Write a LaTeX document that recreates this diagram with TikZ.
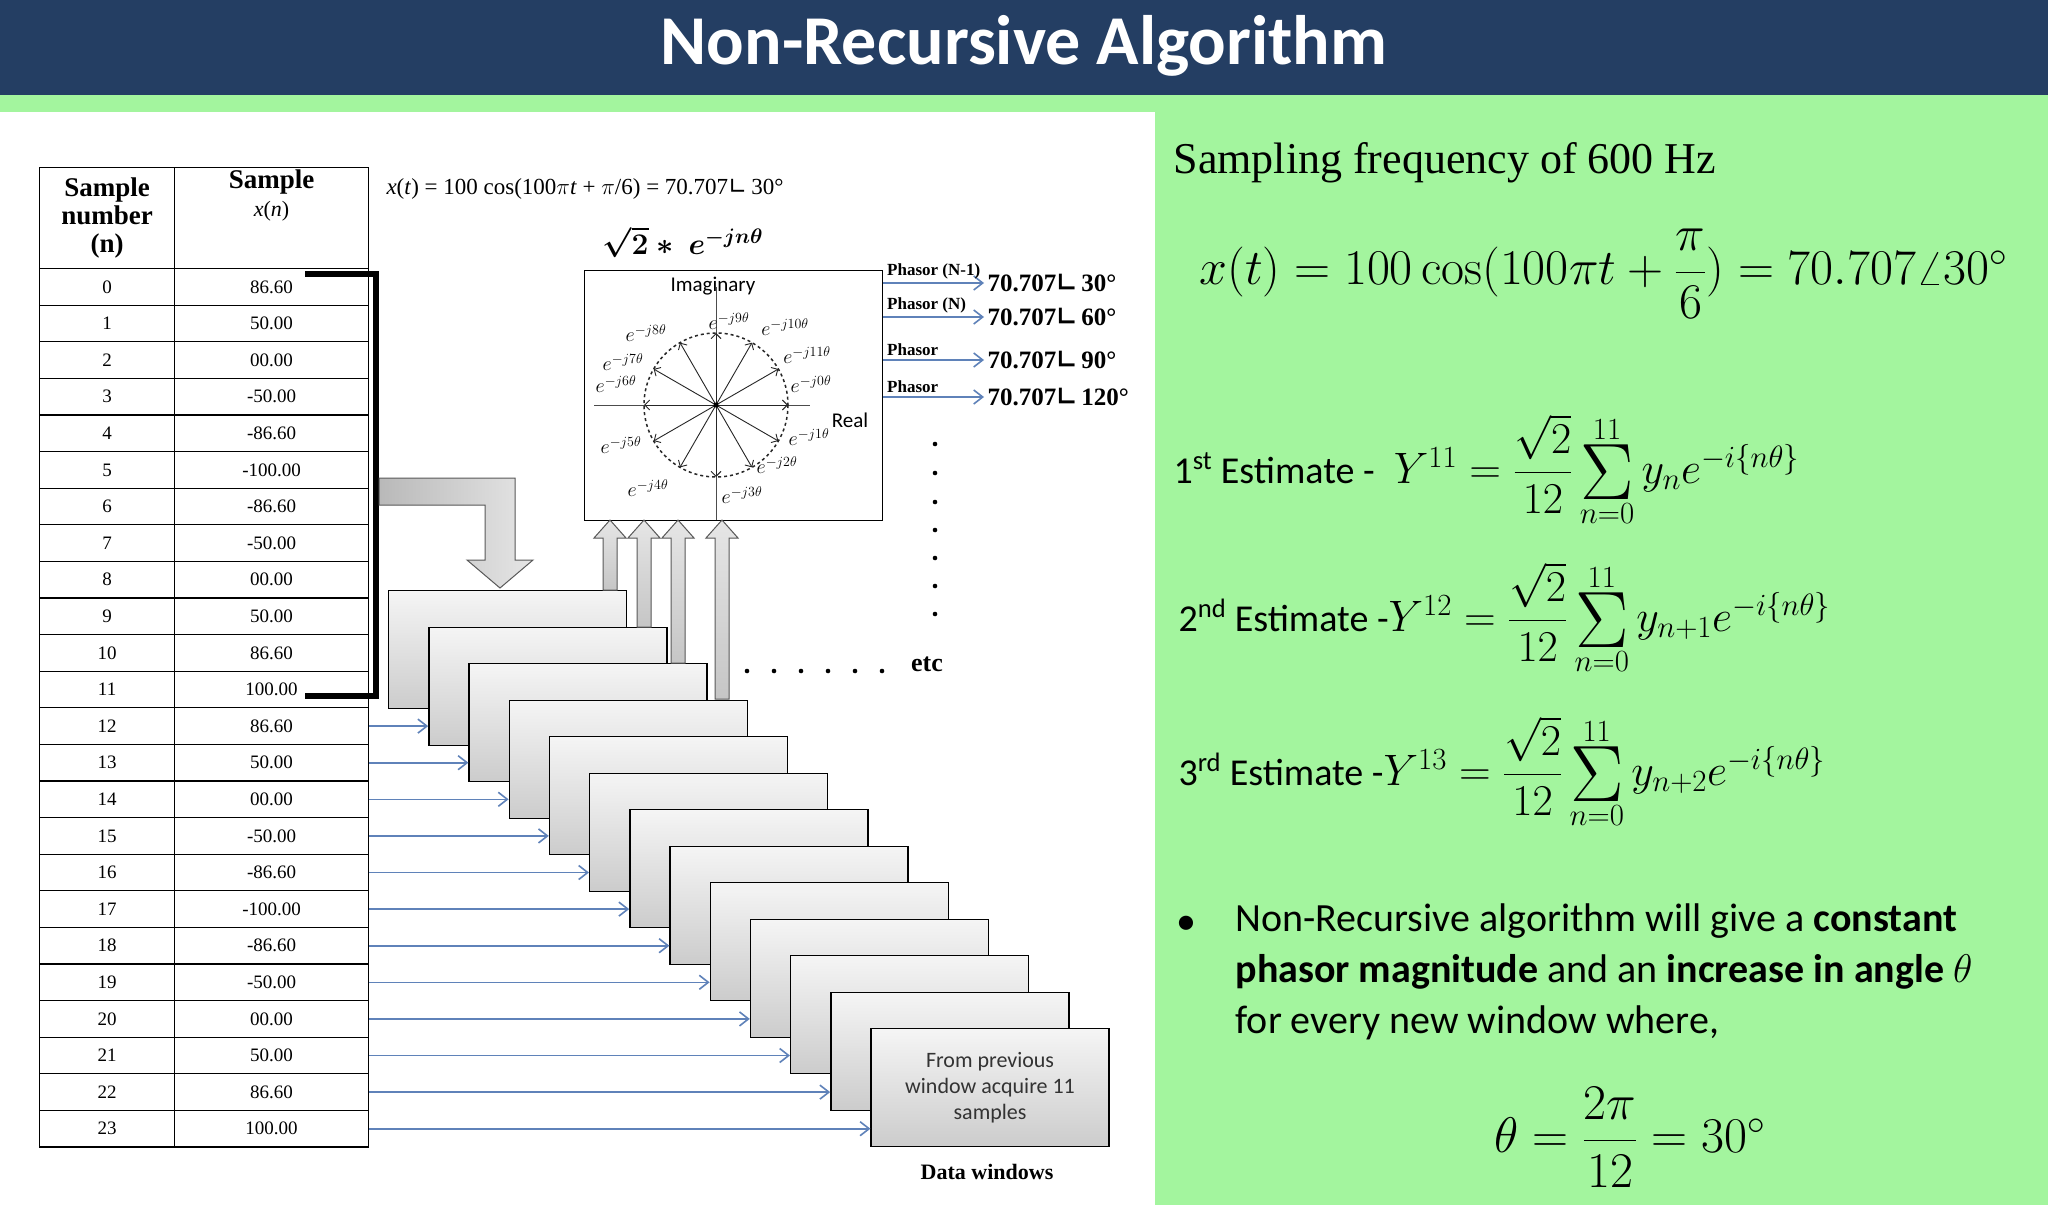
\RequirePackage{fix-cm}
\documentclass[tikz,border=0pt]{standalone}
\usepackage{amsmath}
\usepackage{exscale}
\usepackage[no-math]{fontspec}
\setmainfont{Liberation Serif}
\newfontfamily\calib{Carlito}
\newfontfamily\dvs{DejaVu Sans}
\usetikzlibrary{arrows.meta}
\definecolor{titleblue}{RGB}{36,62,99}
\definecolor{bggreen}{RGB}{163,245,158}
\definecolor{arrblue}{RGB}{95,130,185}
\newcommand{\ang}{{\dvs\char"221F}}
\newcommand{\fs}[1]{\fontsize{#1}{\dimexpr #1pt*6/5\relax}\selectfont}
\newcommand{\bigsum}{\mathop{\vcenter{\hbox{\fontsize{80}{80}\selectfont$\Sigma$}}}\limits}
\begin{document}
\begin{tikzpicture}[x=1pt,y=-1pt,
  cell/.style={draw,line width=1.2pt,minimum height=36.6pt,inner sep=0pt,font=\fs{19}},
  win/.style={draw,line width=1.3pt,top color=gray!8,bottom color=gray!40,minimum width=238pt,minimum height=118pt,anchor=north west,inner sep=0pt},
  barr/.style={arrblue,line width=1.6pt,-{Straight Barb[length=9pt,width=14pt]}},
  garr/.style={draw=gray!70!black,line width=1pt,fill=gray!35},
  plab/.style={font=\fs{20}\itshape,inner sep=0pt}]
\useasboundingbox (0,0) rectangle (2048,1205);
\fill[bggreen] (0,0) rectangle (2048,1205);
\fill[titleblue] (0,0) rectangle (2048,95);
\fill[white] (0,112) rectangle (1155,1205);
\node[white,font=\calib\bfseries\fs{70}] (title) at (1024,46) {Non-Recursive Algorithm};

% table
\node[cell,minimum width=135pt,minimum height=101pt,anchor=north west,align=center,font=\bfseries\fontsize{27}{28}\selectfont] (h1) at (39,167) {Sample\\number\\(n)};
\node[cell,minimum width=194pt,minimum height=101pt,anchor=north west,align=center,font=\fs{27}] (h2) at (174,167) {\textbf{Sample}\\[-4pt]\fs{22}\textit{x}(\textit{n})\\[18pt]};
\foreach \v [count=\i from 0] in {86.60,50.00,00.00,-50.00,-86.60,-100.00,-86.60,-50.00,00.00,50.00,86.60,100.00,86.60,50.00,00.00,-50.00,-86.60,-100.00,-86.60,-50.00,00.00,50.00,86.60,100.00}{
  \node[cell,minimum width=135pt,anchor=north west] (n\i) at (39,268+\i*36.6) {\i};
  \node[cell,minimum width=194pt,anchor=north west] (v\i) at (174,268+\i*36.6) {\v};
}
% bracket
\draw[line width=6pt] (305,274) -| (376,696) -- (305,696);

% big gray arrow
\path[garr,left color=gray!55,right color=gray!20] (379,478) -- (515,478) -- (515,560) -- (533,560) -- (500,588) -- (467,560) -- (485,560) -- (485,505) -- (379,505) -- cycle;

% windows
\foreach \k in {0,...,12}{
  \node[win] (w\k) at (388+\k*40.2,590+\k*36.5) {};
}
\node[align=center,font=\calib\fs{22},text=black!80] (wt) at (w12.center) {From previous\\window acquire 11\\samples};
\node[font=\bfseries\fs{22}] (dw) at (987,1172) {Data windows};

% blue arrows
\foreach \k [evaluate=\k as \r using int(\k+11)] in {1,...,12}{
  \draw[barr] (v\r.east) -- (v\r.east -| w\k.west);
}

% phasor box
\node[draw,line width=1.3pt,minimum width=298pt,minimum height=250pt,anchor=north west,inner sep=0pt] (pb) at (584,270) {};
\coordinate (c) at (716,405);
\draw[line width=1pt,gray!60!black] (594,405) -- (810,405);
\draw[line width=1pt,gray!60!black] (716,287) -- (716,520);
\draw[line width=1.5pt,dashed,gray!30!black] (c) circle (72);
\foreach \a in {0,30,...,330}{
  \draw[gray!30!black,line width=0.9pt,-{Straight Barb[length=5pt]}] (c) -- ++(\a:72);
}
\fill (c) circle (2.5);
\node[font=\calib\fs{21}] (imag) at (713,286) {Imaginary};
\node[font=\calib\fs{21}] (real) at (850,420) {Real};
\node[plab] (e9) at (729,321) {$e^{-j9\theta}$};
\node[plab] (e10) at (785,327) {$e^{-j10\theta}$};
\node[plab] (e8) at (646,333) {$e^{-j8\theta}$};
\node[plab] (e11) at (807,355) {$e^{-j11\theta}$};
\node[plab] (e7) at (623,362) {$e^{-j7\theta}$};
\node[plab] (e6) at (616,384) {$e^{-j6\theta}$};
\node[plab] (e0) at (811,384) {$e^{-j0\theta}$};
\node[plab] (e5) at (621,445) {$e^{-j5\theta}$};
\node[plab] (e1) at (809,437) {$e^{-j1\theta}$};
\node[plab] (e2) at (777,465) {$e^{-j2\theta}$};
\node[plab] (e4) at (648,488) {$e^{-j4\theta}$};
\node[plab] (e3) at (742,495) {$e^{-j3\theta}$};

\node[font=\fs{30}] (sq) at (683,242) {$\boldsymbol{\sqrt{2}\ast\ e^{-jn\theta}}$};
\node[anchor=west,font=\fs{23}] (xt) at (383,189) {\textit{x}(\textit{t}) = 100 cos(100\textit{$\pi$t} + \textit{$\pi$}/6) = 70.707\ang\,30°};

% up arrows
\foreach \x/\y [count=\k from 0] in {610/590,644/627,678/663,722/699}{
  \path[garr,top color=gray!20,bottom color=gray!45] (\x-7,\y) -- (\x-7,538) -- (\x-16,538) -- (\x,520) -- (\x+16,538) -- (\x+7,538) -- (\x+7,\y) -- cycle;
}

% phasor outputs
\foreach \y/\t/\v [count=\k] in {283/Phasor (N-1)/30,317/Phasor (N)/60,360/Phasor/90,397/Phasor/120}{
  \coordinate (s\k) at (pb.east |- 0,\y);
  \node[anchor=west,font=\bfseries\fs{25}] (pv\k) at (984,\y) {70.707\ang\,\v°};
  \draw[barr] (s\k) -- (pv\k.west);
  \node[anchor=south west,font=\bfseries\fs{17},inner sep=1pt] (pl\k) at (886,\y-3) {\t};
}
\foreach \y in {444,473,502,530,558,586,614} \fill (935,\y) circle (2.3);
\foreach \x in {747,774,801,828,855,882} \fill (\x,671) circle (2.3);
\node[font=\bfseries\fs{26}] (etc) at (927,664) {etc};

% right panel
\node[anchor=west,font=\fs{44}] (sf) at (1170,163) {Sampling frequency of 600 Hz};
\node[anchor=west,font=\fs{50}] (eq) at (1196,274) {$x(t)=100\cos(100\pi t+\dfrac{\pi}{6})=70.707\angle 30^{\circ}$};
\node[anchor=west,font=\calib\fs{38}] (e1st) at (1170,470) {1\textsuperscript{st} Estimate -\; \fs{44}$Y^{11}=\dfrac{\sqrt{2}}{12}\bigsum_{n=0}^{11}y_{n}e^{-i\{n\theta\}}$};
\node[anchor=west,font=\calib\fs{38}] (e2nd) at (1175,618) {2\textsuperscript{nd} Estimate -\fs{44}$Y^{12}=\dfrac{\sqrt{2}}{12}\bigsum_{n=0}^{11}y_{n+1}e^{-i\{n\theta\}}$};
\node[anchor=west,font=\calib\fs{38}] (e3rd) at (1175,772) {3\textsuperscript{rd} Estimate -\fs{44}$Y^{13}=\dfrac{\sqrt{2}}{12}\bigsum_{n=0}^{11}y_{n+2}e^{-i\{n\theta\}}$};
\node[font=\calib\fs{40}] (bul) at (1186,925) {•};
\node[anchor=north west,align=left,font=\calib\fontsize{40}{51}\selectfont] (bt) at (1232,900) {Non-Recursive algorithm will give a \textbf{constant}\\\textbf{phasor magnitude} and an \textbf{increase in angle} $\theta$\\for every new window where,};
\node[font=\fs{50}] (th) at (1630,1137) {$\theta=\dfrac{2\pi}{12}=30^{\circ}$};
\end{tikzpicture}
\end{document}
